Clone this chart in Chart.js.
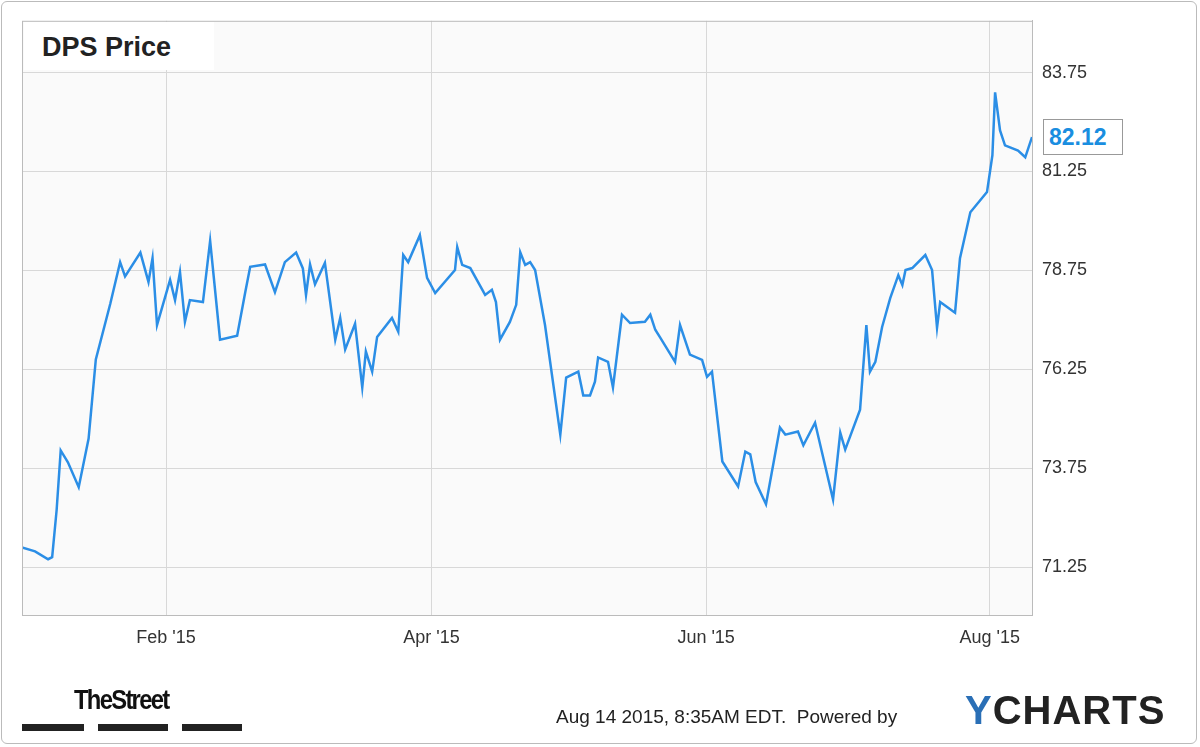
<!DOCTYPE html>
<html><head><meta charset="utf-8">
<script src="https://cdn.jsdelivr.net/npm/chart.js@4"></script>
<style>
body{margin:0;width:1200px;height:747px;background:#fff;font-family:"Liberation Sans",Arial,sans-serif;overflow:hidden}
#frame{position:absolute;left:1px;top:1px;width:1196px;height:743px;border:1px solid #bbb;border-radius:6px;box-sizing:border-box}
#wrap{position:absolute;left:0;top:0;width:1200px;height:747px}
#title{position:absolute;left:24px;top:22px;width:190px;height:48px;background:#fff;font-size:27px;font-weight:bold;color:#222;padding:10px 0 0 18px;box-sizing:border-box}
#last{position:absolute;left:1043px;top:119px;width:80px;height:36px;border:1px solid #999;background:#fff;color:#1a8ee0;font-size:23px;font-weight:bold;box-sizing:border-box;padding:4px 0 0 5px}
#street{position:absolute;left:22px;top:684px;width:220px}
#street .t{position:absolute;left:52px;top:0;font-size:28px;font-weight:bold;letter-spacing:-2px;color:#111;transform:scaleX(0.85);transform-origin:left}
#street .b{position:absolute;top:40px;height:7px;background:#222}
#foot{position:absolute;left:556px;top:706px;font-size:19px;color:#222}
#yc{position:absolute;left:965px;top:688px;font-size:40px;font-weight:bold;color:#222;letter-spacing:1px}
#yc span{color:#2a6fb6}
</style></head><body>
<div id="frame"></div>
<div id="wrap"><canvas id="c" width="1200" height="747"></canvas></div>
<div id="title">DPS Price</div>
<div id="last">82.12</div>
<div id="street"><div class="t">TheStreet</div><div class="b" style="left:0;width:62px"></div><div class="b" style="left:76px;width:70px"></div><div class="b" style="left:160px;width:60px"></div></div>
<div id="foot">Aug 14 2015, 8:35AM EDT.&nbsp; Powered by</div>
<div id="yc"><span>Y</span>CHARTS</div>
<script>
// day number (days since Jan 1 2015) and price
const days=[-1,1.9,4.8,5.7,6.7,7.6,9.2,11.6,13.8,15.4,18.6,20.8,21.9,25.3,27.1,28,29,31.9,33,34.1,35.2,36.3,39.2,40.8,43,46.8,48.6,49.7,53,55.2,57.4,59.9,61.4,62.1,63,64.1,66.3,68.6,69.7,70.8,73,74.6,75.4,76.8,77.9,81.2,82.6,83.7,84.8,87.4,89,90.8,95.2,95.7,96.8,98.6,101.9,103.4,104.3,105.2,107.4,108.8,109.7,110.8,111.9,113,115.2,118.6,119.9,122.6,123.7,125.2,126.3,127,129.2,130.3,132.3,134.1,137.4,138.6,139.7,140.8,144.1,145.2,147.4,150.1,151.2,152.3,154.6,158.1,159.7,160.8,162,164.3,167.4,168.6,171.4,172.6,175.2,179.2,180.8,181.9,185.2,186.6,187.4,188.6,190.1,191.9,193.7,194.6,195.3,196.8,199.7,201.2,202.3,203,206.3,207.4,209.7,213.4,214.6,215.2,216.3,217.4,220.3,221.9,223.4];
const prices=[71.75,71.65,71.45,71.5,72.7,74.2,73.9,73.27,74.5,76.5,77.9,78.96,78.6,79.2,78.46,79.06,77.37,78.51,78.0,78.71,77.45,78.0,77.95,79.5,77.0,77.1,78.2,78.84,78.9,78.2,78.96,79.2,78.8,78.13,78.9,78.4,78.94,77.0,77.55,76.75,77.4,75.79,76.7,76.19,77.07,77.55,77.2,79.14,78.96,79.64,78.56,78.18,78.76,79.34,78.89,78.81,78.13,78.26,77.95,77.0,77.45,77.88,79.21,78.89,78.96,78.76,77.37,74.6,76.04,76.19,75.59,75.59,75.94,76.55,76.44,75.79,77.63,77.42,77.45,77.63,77.25,77.05,76.44,77.37,76.62,76.49,76.06,76.19,73.92,73.29,74.17,74.1,73.4,72.84,74.78,74.6,74.68,74.33,74.9,72.96,74.65,74.22,75.23,77.37,76.19,76.44,77.32,78.05,78.63,78.38,78.76,78.81,79.14,78.76,77.3,77.95,77.68,79.06,80.22,80.73,81.66,83.25,82.29,81.91,81.78,81.61,82.12];
const xTicks=[31,90,151,214];
const xLabels=["Feb '15","Apr '15","Jun '15","Aug '15"];
const yTicks=[71.25,73.75,76.25,78.75,81.25,83.75];
new Chart(document.getElementById('c'),{type:'line',
data:{datasets:[{data:days.map((d,i)=>({x:d,y:prices[i]})),borderColor:'#2b8ee6',borderWidth:2.5,pointRadius:0,tension:0}]},
options:{responsive:false,animation:false,events:[],
layout:{padding:{left:22,top:20,right:0,bottom:0}},
plugins:{legend:{display:false},tooltip:{enabled:false}},
scales:{
x:{type:'linear',min:-1,max:223.4,afterBuildTicks:s=>{s.ticks=xTicks.map(v=>({value:v}))},afterFit:s=>{s.height=132},
 ticks:{callback:v=>xLabels[xTicks.indexOf(v)],font:{size:18,family:'Liberation Sans'},color:'#333',padding:12,maxRotation:0},
 grid:{color:'#d8d8d8',drawTicks:false},border:{color:'#bbb'}},
y:{position:'right',min:70.04,max:85.06,afterBuildTicks:s=>{s.ticks=yTicks.map(v=>({value:v}))},afterFit:s=>{s.width=168},
 ticks:{callback:v=>v.toFixed(2),font:{size:18,family:'Liberation Sans'},color:'#333',padding:10},
 grid:{color:'#d8d8d8',drawTicks:false},border:{color:'#bbb'}}
}},
plugins:[{id:'bg',beforeDraw(c){const a=c.chartArea,x=c.ctx;x.save();x.fillStyle='#fafafa';x.fillRect(a.left,a.top,a.width,a.height);x.restore();}},
{id:'box',afterDraw(c){const a=c.chartArea,x=c.ctx;x.save();x.strokeStyle='#bbb';x.lineWidth=1;x.strokeRect(a.left+.5,a.top+.5,a.width,a.height);x.restore();}}]
});
</script></body></html>
